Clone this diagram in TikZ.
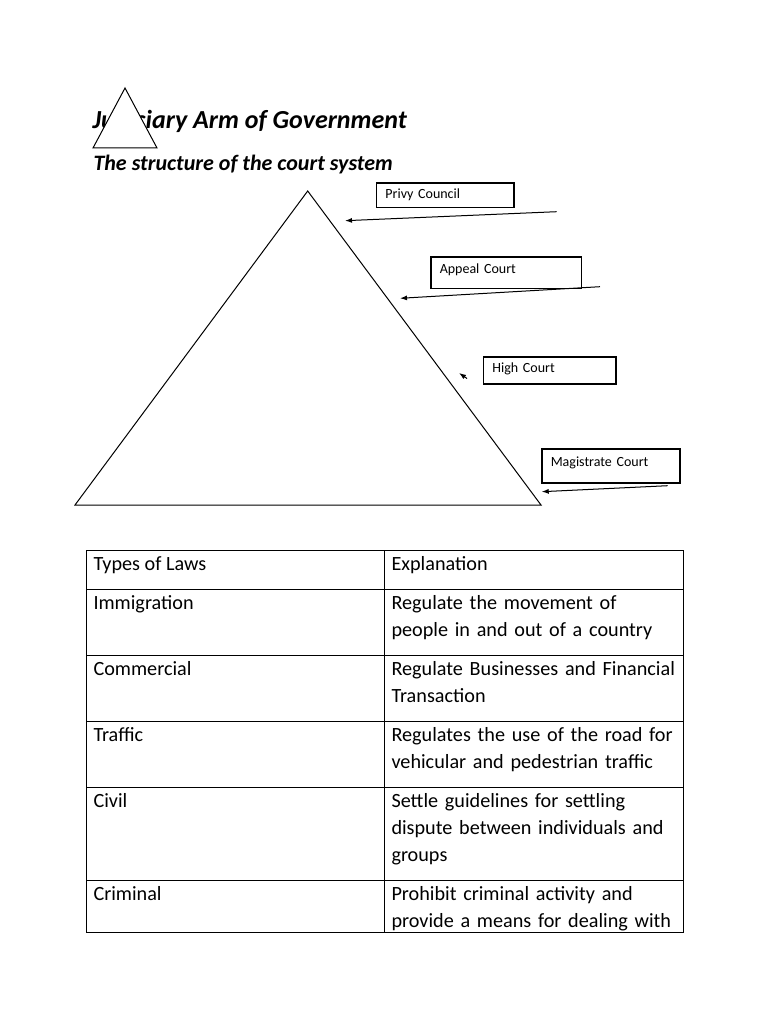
\documentclass[tikz,border=0pt]{standalone}
\usepackage{fontspec}
\setmainfont{Carlito}
\usetikzlibrary{arrows.meta}

\begin{document}
\begin{tikzpicture}[x=1pt,y=-1pt,line width=1pt,
	courtbox/.style={draw,line width=1.5pt,anchor=north west,inner xsep=9pt,inner ysep=0pt,
		text height=10pt,align=left,font=\fontsize{14}{16}\selectfont},
	courtarrow/.style={line width=1pt,-{Latex[length=7pt,width=5pt]}},
	cell/.style={anchor=base west,inner sep=0pt,align=left,font=\fontsize{20.2}{27}\selectfont}]
	\useasboundingbox (0,0) rectangle (768,1024);

	% headings
	\node[anchor=base west,inner sep=0pt,font=\fontsize{26}{30}\selectfont\bfseries\itshape] (title) at (92,129) {Judiciary Arm of Government};
	\node[anchor=base west,inner sep=0pt,font=\fontsize{22}{26}\selectfont\bfseries\itshape] (subtitle) at (93,171) {The structure of the court system};
	\draw[fill=white] (125,88) -- (157,148) -- (93,148) -- cycle;

	% the pyramid
	\draw (307.7,191) -- (541,505) -- (75,505) -- cycle;

	% courts
	\node[courtbox,text width=119.6pt,minimum height=24.4pt,text depth=3pt] (privy) at (375.7,182.3) {Privy Council};
	\node[courtbox,text width=132.7pt,minimum height=31.7pt,text depth=8pt] (appeal) at (430,256) {Appeal Court};
	\node[courtbox,text width=114.3pt,minimum height=27.3pt,text depth=5.5pt] (high) at (482.7,356) {High Court};
	\node[courtbox,text width=120pt,minimum height=34pt,text depth=10pt] (magistrate) at (541,448.3) {Magistrate Court};

	\coordinate (privyfrom) at (556.7,211.7);
	\coordinate (privyto) at (345,220.7);
	\coordinate (appealfrom) at (600,286.7);
	\coordinate (appealto) at (400,298.3);
	\coordinate (highfrom) at (467,378.5);
	\coordinate (highto) at (459,373);
	\coordinate (magistratefrom) at (667.7,485.7);
	\coordinate (magistrateto) at (541.7,491.7);
	\foreach \c in {privy,appeal,high,magistrate}{
		\draw[courtarrow] (\c from) -- (\c to);
	}

	% table of laws
	\draw (86,550) rectangle (683,932);
	\draw (384,550) -- (384,932);
	\foreach \y in {589,655,721,787,880}{
		\draw (86,\y) -- (683,\y);
	}
	\node[cell] (lawhead) at (93,570) {Types of Laws};
	\node[cell] (explhead) at (391,570) {Explanation};
	\node[cell] (immigration) at (93,609) {Immigration};
	\node[cell,text width=288pt] (immigrationtxt) at (391,609) {Regulate the movement of\\people in and out of a country};
	\node[cell] (commercial) at (93,675) {Commercial};
	\node[cell,text width=288pt] (commercialtxt) at (391,675) {Regulate Businesses and Financial\\Transaction};
	\node[cell] (traffic) at (93,741) {Traffic};
	\node[cell,text width=288pt] (traffictxt) at (391,741) {Regulates the use of the road for\\vehicular and pedestrian traffic};
	\node[cell] (civil) at (93,807) {Civil};
	\node[cell,text width=288pt] (civiltxt) at (391,807) {Settle guidelines for settling\\dispute between individuals and\\groups};
	\node[cell] (criminal) at (93,900) {Criminal};
	\node[cell,text width=288pt] (criminaltxt) at (391,900) {Prohibit criminal activity and\\provide a means for dealing with};
\end{tikzpicture}
\end{document}
